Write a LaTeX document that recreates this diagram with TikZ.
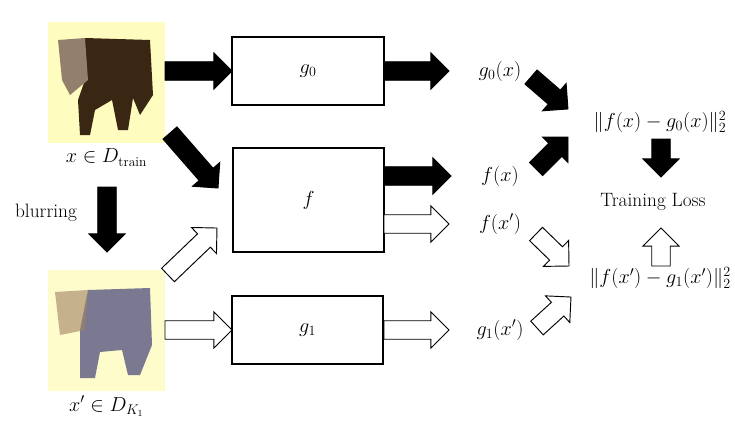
\documentclass[tikz,border=0pt]{standalone}
\usepackage{fontspec}
\usetikzlibrary{shapes.arrows,calc}
\newcommand\bigfnt{\fontsize{16.5pt}{19pt}\selectfont}
\begin{document}
\begin{tikzpicture}[x=0.03cm,y=-0.03cm,
  box/.style={draw,line width=0.9pt,inner sep=0,font=\bigfnt},
  lab/.style={font=\bigfnt},
  fat/.style={single arrow,draw=black,line width=0.8pt,inner xsep=0pt,inner ysep=7.5pt,minimum width=0pt,outer sep=0pt,
     single arrow head extend=7.5pt,single arrow tip angle=90},
  blk/.style={fat,fill=black},
  wht/.style={fat,fill=white},
]
\useasboundingbox (0,0) rectangle (735,421);
\newcommand\myarrow[3]{\path let \p1=($(#3)-(#2)$),\n1={veclen(\x1,\y1)} in (#2) -- (#3) node[pos=0,anchor=tail,sloped,#1,minimum height=\n1]{};}
% images
\node[inner sep=0,minimum width=117*0.03cm,minimum height=121*0.03cm,fill=yellow!25!white] (img1) at (106.5,82.5) {};
\fill[black!70!brown] (85,38) -- (150,40) -- (153,95) -- (140,115) -- (133,98) -- (128,130) -- (118,130) -- (112,100) -- (95,110) -- (90,135) -- (80,135) -- (78,100) -- (85,80) -- cycle;
\fill[gray!70!brown] (58,40) -- (85,38) -- (88,80) -- (70,95) -- (62,80) -- cycle;
\node[inner sep=0,minimum width=117*0.03cm,minimum height=121*0.03cm,fill=yellow!20!white] (img2) at (106.5,330) {};
\fill[black!45!blue!30!gray,opacity=0.8] (88,290) -- (150,288) -- (152,345) -- (140,375) -- (128,375) -- (122,350) -- (100,352) -- (95,378) -- (80,378) -- (80,330) -- cycle;
\fill[gray!50!brown,opacity=0.6] (55,292) -- (88,290) -- (85,330) -- (60,335) -- cycle;
\node[lab,anchor=north] (l1) at (106.5,145) {$x\in D_{\mathrm{train}}$};
\node[lab,anchor=north] (l2) at (106.5,392) {$x'\in D_{K_1}$};
\node[lab] (blur) at (46,213) {blurring};
% boxes
\node[box,minimum width=152*0.03cm,minimum height=68*0.03cm] (g0) at (308,71) {$g_0$};
\node[box,minimum width=151*0.03cm,minimum height=104*0.03cm] (f) at (308.5,200) {$f$};
\node[box,minimum width=151*0.03cm,minimum height=68*0.03cm] (g1) at (307.5,330) {$g_1$};
% outputs
\node[lab] (g0x) at (500,71) {$g_0(x)$};
\node[lab] (fx) at (500,176) {$f(x)$};
\node[lab] (fxp) at (500,224) {$f(x')$};
\node[lab] (g1x) at (500,330) {$g_1(x')$};
\node[lab] (L1) at (660,122) {$\|f(x)-g_0(x)\|_2^2$};
\node[lab] (TL) at (653,202) {Training Loss};
\node[lab] (L2) at (660,278) {$\|f(x')-g_1(x')\|_2^2$};
% coordinates
\coordinate (a1s) at (165,71); \coordinate (a1e) at (232,71);
\coordinate (a2s) at (170,133); \coordinate (a2e) at (218,188);
\coordinate (a3s) at (168,275); \coordinate (a3e) at (217,228);
\coordinate (a4s) at (165,330); \coordinate (a4e) at (232,330);
\coordinate (bs) at (107,187); \coordinate (be) at (107,252);
\coordinate (o1s) at (384,71); \coordinate (o1e) at (449,71);
\coordinate (o2s) at (384,176); \coordinate (o2e) at (451,176);
\coordinate (o3s) at (384,224); \coordinate (o3e) at (449,224);
\coordinate (o4s) at (384,330); \coordinate (o4e) at (449,330);
\coordinate (d1s) at (531,77); \coordinate (d1e) at (568,109);
\coordinate (d2s) at (536,169); \coordinate (d2e) at (568,137);
\coordinate (d3s) at (536,234); \coordinate (d3e) at (569,266);
\coordinate (d4s) at (537,328); \coordinate (d4e) at (571,297);
\coordinate (u1s) at (661,139); \coordinate (u1e) at (661,177);
\coordinate (u2s) at (661,266); \coordinate (u2e) at (661,228);
\myarrow{blk}{a1s}{a1e}
\myarrow{blk}{a2s}{a2e}
\myarrow{wht}{a3s}{a3e}
\myarrow{wht}{a4s}{a4e}
\myarrow{blk}{bs}{be}
\myarrow{blk}{o1s}{o1e}
\myarrow{blk}{o2s}{o2e}
\myarrow{wht}{o3s}{o3e}
\myarrow{wht}{o4s}{o4e}
\myarrow{blk}{d1s}{d1e}
\myarrow{blk}{d2s}{d2e}
\myarrow{wht}{d3s}{d3e}
\myarrow{wht}{d4s}{d4e}
\myarrow{blk}{u1s}{u1e}
\myarrow{wht}{u2s}{u2e}
\end{tikzpicture}
\end{document}
